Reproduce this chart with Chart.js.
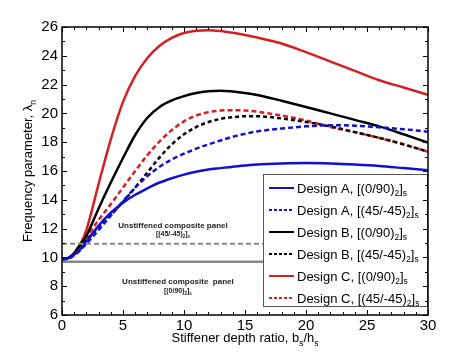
<!DOCTYPE html>
<html>
<head>
<meta charset="utf-8">
<script src="https://cdn.jsdelivr.net/npm/chart.js@4.4.1/dist/chart.umd.min.js"></script>
<style>
html,body{margin:0;padding:0;background:#fff;}
#wrap{width:474px;height:355px;position:relative;}
</style>
</head>
<body>
<div id="wrap"><canvas id="c" width="474" height="355"></canvas></div>
<script>
// ---- data ----
const xValues = [0,0.5,1,1.5,2,3,4,5,6,7,8,9,10,11,12,13,14,15,16,18,20,22,24,26,28,30];
const designA_0_90  = [9.85,9.95,10.2,10.55,11.1,12.2,13.1,13.8,14.35,14.8,15.2,15.5,15.75,15.95,16.1,16.2,16.3,16.38,16.45,16.52,16.55,16.52,16.45,16.35,16.2,16.05];
const designA_45_45 = [9.85,9.9,10.15,10.5,10.95,11.9,12.9,13.9,14.85,15.65,16.3,16.8,17.2,17.55,17.85,18.12,18.38,18.58,18.75,18.95,19.1,19.18,19.15,19.03,18.9,18.73];
const designB_0_90  = [9.85,9.95,10.3,10.9,11.5,13.4,15.2,16.9,18.5,19.7,20.45,20.9,21.2,21.42,21.54,21.58,21.52,21.42,21.28,20.88,20.45,20.0,19.55,19.1,18.55,17.97];
const designB_45_45 = [9.85,9.95,10.25,10.8,11.2,12.1,12.95,13.85,14.85,15.9,16.95,17.85,18.55,19.05,19.4,19.62,19.74,19.8,19.8,19.65,19.4,19.1,18.7,18.3,17.85,17.34];
const designC_0_90  = [9.85,9.95,10.2,10.9,11.9,15.1,18.2,20.8,22.6,23.85,24.7,25.25,25.58,25.74,25.78,25.72,25.6,25.45,25.27,24.85,24.25,23.6,22.95,22.3,21.8,21.3];
const designC_45_45 = [9.85,9.95,10.3,10.95,11.4,12.6,13.7,14.85,16.0,17.1,18.05,18.85,19.45,19.85,20.08,20.2,20.22,20.2,20.12,19.85,19.5,19.05,18.7,18.3,17.85,17.34];
const unstiffened_0_90 = 9.7;
const unstiffened_45_45 = 10.95;
const seriesLabels = ['Design A, [(0/90)_2]_s','Design A, [(45/-45)_2]_s','Design B, [(0/90)_2]_s','Design B, [(45/-45)_2]_s','Design C, [(0/90)_2]_s','Design C, [(45/-45)_2]_s'];
const refLabels = [['Unstiffened composite panel','[(45/-45)_2]_s'],['Unstiffened composite  panel','[(0/90)_2]_s']];
const xTitle = 'Stiffener depth ratio, b_s/h_s';
const yTitle = 'Frequency parameter, \u03bb_n';
const xRange = [0,30], yRange = [6,26];

// ---- styles ----
const BLUE = '#1010d0', RED = '#d42020', BLACK = '#000', GRAY = '#888';
const FONT = '"Liberation Sans", Arial, sans-serif';

const pts = arr => xValues.map((x,i)=>({x:x,y:arr[i]}));
const seriesData = [designA_0_90, designA_45_45, designB_0_90, designB_45_45, designC_0_90, designC_45_45];
const seriesColors = [BLUE, BLUE, BLACK, BLACK, RED, RED];
const seriesDash = [[], [5,3], [], [4,3], [], [5,3]];

const datasets = [
  {label:'ref1', data:[{x:xRange[0],y:unstiffened_0_90},{x:xRange[1],y:unstiffened_0_90}], borderColor:GRAY, borderWidth:2.5, pointRadius:0},
  {label:'ref2', data:[{x:xRange[0],y:unstiffened_45_45},{x:xRange[1],y:unstiffened_45_45}], borderColor:GRAY, borderWidth:2, borderDash:[5,3], pointRadius:0}
];
seriesData.forEach((d,i)=>{
  datasets.push({label:seriesLabels[i], data:pts(d), borderColor:seriesColors[i], borderWidth:2.5,
    borderDash:seriesDash[i], pointRadius:0, cubicInterpolationMode:'monotone', fill:false});
});

// rich text: '_x' -> subscript x
function parseRich(s){
  const parts=[]; let buf='';
  for(let i=0;i<s.length;i++){
    if(s[i]==='_' && i+1<s.length){ if(buf){parts.push({t:buf});buf='';} parts.push({t:s[i+1],sub:true}); i++; }
    else buf+=s[i];
  }
  if(buf) parts.push({t:buf});
  return parts;
}
function richWidth(ctx, parts, size, weight){
  let w=0;
  parts.forEach(p=>{ ctx.font=(weight||'')+' '+(p.sub?size*0.65:size)+'px '+FONT; w+=ctx.measureText(p.t).width; });
  return w;
}
function drawRich(ctx, s, x, y, size, align, weight){
  const parts=parseRich(s);
  const w=richWidth(ctx, parts, size, weight);
  let cx = align==='center'? x-w/2 : (align==='right'? x-w : x);
  ctx.textAlign='left'; ctx.textBaseline='alphabetic';
  parts.forEach(p=>{
    const fs=p.sub?size*0.65:size;
    ctx.font=(weight||'')+' '+fs+'px '+FONT;
    ctx.fillText(p.t, cx, p.sub? y+size*0.3 : y);
    cx+=ctx.measureText(p.t).width;
  });
}

const customPlugin = {
  id:'custom',
  afterDatasetsDraw(chart){
    const ctx=chart.ctx, xs=chart.scales.x, ys=chart.scales.y, a=chart.chartArea;
    ctx.save();
    ctx.fillStyle='#222';
    // annotations for reference lines
    drawRich(ctx, refLabels[0][0], xs.getPixelForValue(9.1), ys.getPixelForValue(unstiffened_45_45)-16, 8, 'center', 'bold');
    drawRich(ctx, refLabels[0][1], xs.getPixelForValue(9.1), ys.getPixelForValue(unstiffened_45_45)-7.5, 7, 'center', 'bold');
    drawRich(ctx, refLabels[1][0], xs.getPixelForValue(9.5), ys.getPixelForValue(unstiffened_0_90)+22, 8, 'center', 'bold');
    drawRich(ctx, refLabels[1][1], xs.getPixelForValue(9.5), ys.getPixelForValue(unstiffened_0_90)+31, 7, 'center', 'bold');
    // legend
    const L=a.right-165, T=174, R=a.right, B=a.bottom-8;
    ctx.fillStyle='#fff'; ctx.fillRect(L,T,R-L,B-T);
    ctx.strokeStyle='#555'; ctx.lineWidth=1; ctx.strokeRect(L+0.5,T+0.5,R-L-1,B-T-1);
    seriesLabels.forEach((lab,i)=>{
      const cy=T+14+i*22;
      ctx.strokeStyle=seriesColors[i]; ctx.lineWidth=2;
      ctx.setLineDash(seriesDash[i].length? [3,2]:[]);
      ctx.beginPath(); ctx.moveTo(L+6,cy); ctx.lineTo(L+31,cy); ctx.stroke();
      ctx.setLineDash([]);
      ctx.fillStyle='#000';
      drawRich(ctx, lab, L+34, cy+4.5, 13, 'left');
    });
    ctx.restore();
  },
  afterDraw(chart){
    const ctx=chart.ctx, xs=chart.scales.x, ys=chart.scales.y, a=chart.chartArea;
    ctx.save();
    ctx.strokeStyle='#000'; ctx.lineWidth=1.5;
    ctx.strokeRect(a.left,a.top,a.right-a.left,a.bottom-a.top);
    ctx.lineWidth=1;
    ctx.beginPath();
    for(let v=yRange[0]; v<=yRange[1]; v++){
      const p=Math.round(ys.getPixelForValue(v))+0.5, len=(v%2===0)?5:3;
      ctx.moveTo(a.left,p); ctx.lineTo(a.left+len,p);
      ctx.moveTo(a.right,p); ctx.lineTo(a.right-len,p);
    }
    for(let v=xRange[0]; v<=xRange[1]; v++){
      const p=Math.round(xs.getPixelForValue(v))+0.5, len=(v%5===0)?5:3;
      ctx.moveTo(p,a.bottom); ctx.lineTo(p,a.bottom-len);
      ctx.moveTo(p,a.top); ctx.lineTo(p,a.top+len);
    }
    ctx.stroke();
    ctx.fillStyle='#000';
    drawRich(ctx, xTitle, (a.left+a.right)/2, 342, 13, 'center');
    ctx.translate(32,(a.top+a.bottom)/2); ctx.rotate(-Math.PI/2);
    drawRich(ctx, yTitle, 0, 0, 13, 'center');
    ctx.restore();
  }
};

new Chart(document.getElementById('c'), {
  type:'line',
  data:{datasets:datasets},
  options:{
    responsive:false, animation:false,
    layout:{padding:{top:27,right:46,left:0,bottom:0}},
    plugins:{legend:{display:false}, tooltip:{enabled:false}},
    scales:{
      x:{type:'linear', min:xRange[0], max:xRange[1],
         grid:{display:false, drawTicks:false}, border:{display:false},
         ticks:{stepSize:5, color:'#000', font:{family:FONT, size:15}, padding:2, maxRotation:0},
         afterFit(s){ s.height=40; }},
      y:{type:'linear', min:yRange[0], max:yRange[1],
         grid:{display:false, drawTicks:false}, border:{display:false},
         ticks:{stepSize:2, color:'#000', font:{family:FONT, size:15}, padding:4},
         afterFit(s){ s.width=62; }}
    }
  },
  plugins:[customPlugin]
});
</script>
</body>
</html>
